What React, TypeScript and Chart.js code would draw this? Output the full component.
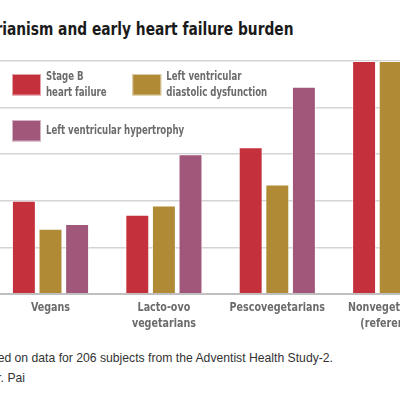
import React, { useEffect, useRef } from "react";
import { Chart, registerables } from "chart.js";

Chart.register(...registerables);

// ---- data ----
const categories: string[][] = [
  ["Vegans"],
  ["Lacto-ovo", "vegetarians"],
  ["Pescovegetarians"],
  ["Nonvegetarians", "(reference)"],
];
const seriesNames: string[][] = [
  ["Stage B", "heart failure"],
  ["Left ventricular", "diastolic dysfunction"],
  ["Left ventricular hypertrophy"],
];
const stageB = [0.4, 0.34, 0.63, 1.0];
const diastolic = [0.28, 0.38, 0.47, 1.0];
const hypertrophy = [0.3, 0.6, 0.89, 1.0];
const seriesColors = ["#C4313C", "#B08A34", "#A0577A"];
const yTickValues = [0, 0.2, 0.4, 0.6, 0.8, 1.0];

const titleText = "Vegetarianism and early heart failure burden";
const noteLines = [
  "Based on data for 206 subjects from the Adventist Health Study-2.",
  "Source: Dr. Pai",
];

const condensed = '"DejaVu Sans Condensed", "DejaVu Sans", sans-serif';
const regular = '"Liberation Sans", Arial, sans-serif';
const squeeze = 0.83;

function drawSqueezed(ctx: any, text: string, x: number, y: number) {
  ctx.save();
  ctx.translate(x, y);
  ctx.scale(squeeze, 1);
  ctx.fillText(text, 0, 0);
  ctx.restore();
}

const legendPlugin = {
  id: "cornerLegend",
  afterDatasetsDraw(chart: any) {
    const { ctx, chartArea } = chart;
    const slots = [
      [18.2, 13],
      [138.5, 13],
      [18.2, 59],
    ];
    ctx.save();
    chart.data.datasets.forEach((ds: any, i: number) => {
      const [dx, dy] = slots[i];
      const x = chartArea.left + dx;
      const y = chartArea.top + dy;
      const w = 29;
      const h = 21.5;
      ctx.fillStyle = ds.backgroundColor;
      ctx.fillRect(x, y, w, h);
      ctx.strokeStyle = "rgba(255,255,255,0.55)";
      ctx.lineWidth = 1;
      ctx.strokeRect(x + 0.5, y + 0.5, w - 1, h - 1);
      const lines = seriesNames[i];
      ctx.font = `bold 11.5px ${condensed}`;
      ctx.fillStyle = "#6b6b6b";
      ctx.textBaseline = "middle";
      ctx.textAlign = "left";
      const lh = 16;
      const cy = y + h / 2 + 0.5;
      lines.forEach((t, j) => {
        drawSqueezed(ctx, t, x + 34, cy + (j - (lines.length - 1) / 2) * lh);
      });
    });
    ctx.restore();
  },
};

const categoryLabelPlugin = {
  id: "categoryLabels",
  afterDraw(chart: any) {
    const { ctx } = chart;
    const xs = chart.scales.x;
    ctx.save();
    ctx.font = `bold 12.8px ${condensed}`;
    ctx.fillStyle = "#6b6b6b";
    ctx.textAlign = "center";
    ctx.textBaseline = "middle";
    (chart.data.labels as string[][]).forEach((lines, i) => {
      const cx = xs.getPixelForTick(i);
      lines.forEach((t, j) => {
        drawSqueezed(ctx, t, cx, xs.top + 13.5 + j * 16);
      });
    });
    ctx.restore();
  },
};

export default function App() {
  const canvasRef = useRef<HTMLCanvasElement | null>(null);

  useEffect(() => {
    if (!canvasRef.current) return;
    const chart = new Chart(canvasRef.current, {
      type: "bar",
      data: {
        labels: categories,
        datasets: [stageB, diastolic, hypertrophy].map((vals, i) => ({
          label: seriesNames[i].join(" "),
          data: vals,
          backgroundColor: seriesColors[i],
          borderColor: "rgba(255,255,255,0.55)",
          borderWidth: 1,
          categoryPercentage: 0.704,
          barPercentage: 0.9,
        })),
      },
      options: {
        animation: false,
        responsive: false,
        devicePixelRatio: 1,
        layout: { padding: { left: 13.8, right: 12.6, top: 61, bottom: 0 } },
        plugins: {
          legend: { display: false },
          tooltip: { enabled: false },
          title: { display: false },
        },
        scales: {
          x: {
            grid: { display: false, drawTicks: false },
            border: { display: false },
            afterFit: (scale: any) => {
              scale.height = 46;
            },
            ticks: { display: false, autoSkip: false },
          },
          y: {
            min: 0,
            max: 1,
            afterBuildTicks: (scale: any) => {
              scale.ticks = yTickValues.map((v) => ({ value: v }));
            },
            afterFit: (scale: any) => {
              scale.width = 0;
            },
            ticks: { display: false },
            border: { display: false },
            grid: {
              drawTicks: false,
              color: (c: any) => (c.tick && c.tick.value === 0 ? "#bfbfbf" : "#d4d4d4"),
              lineWidth: (c: any) => (c.tick && c.tick.value === 0 ? 2 : 1.5),
            },
          },
        },
      },
      plugins: [legendPlugin, categoryLabelPlugin],
    });
    return () => chart.destroy();
  }, []);

  return (
    <div
      style={{
        position: "absolute",
        left: 0,
        top: 0,
        width: 400,
        height: 400,
        overflow: "hidden",
        background: "#ffffff",
      }}
    >
      <div
        style={{
          position: "absolute",
          right: 107,
          top: 19.5,
          whiteSpace: "nowrap",
          fontFamily: condensed,
          fontWeight: "bold",
          fontSize: 18.3,
          lineHeight: "18px",
          color: "#1a1a1a",
          transform: "scaleX(0.838)",
          transformOrigin: "right center",
        }}
      >
        {titleText}
      </div>
      <canvas
        ref={canvasRef}
        width={480}
        height={340}
        style={{ position: "absolute", left: -20, top: 0, width: 480, height: 340 }}
      />
      <div
        style={{
          position: "absolute",
          right: 67,
          top: 352,
          whiteSpace: "nowrap",
          fontFamily: regular,
          fontSize: 12.2,
          lineHeight: "12px",
          color: "#333333",
        }}
      >
        {noteLines[0]}
      </div>
      <div
        style={{
          position: "absolute",
          right: 375,
          top: 371.5,
          whiteSpace: "nowrap",
          fontFamily: regular,
          fontSize: 12.2,
          lineHeight: "12px",
          color: "#333333",
        }}
      >
        {noteLines[1]}
      </div>
    </div>
  );
}
